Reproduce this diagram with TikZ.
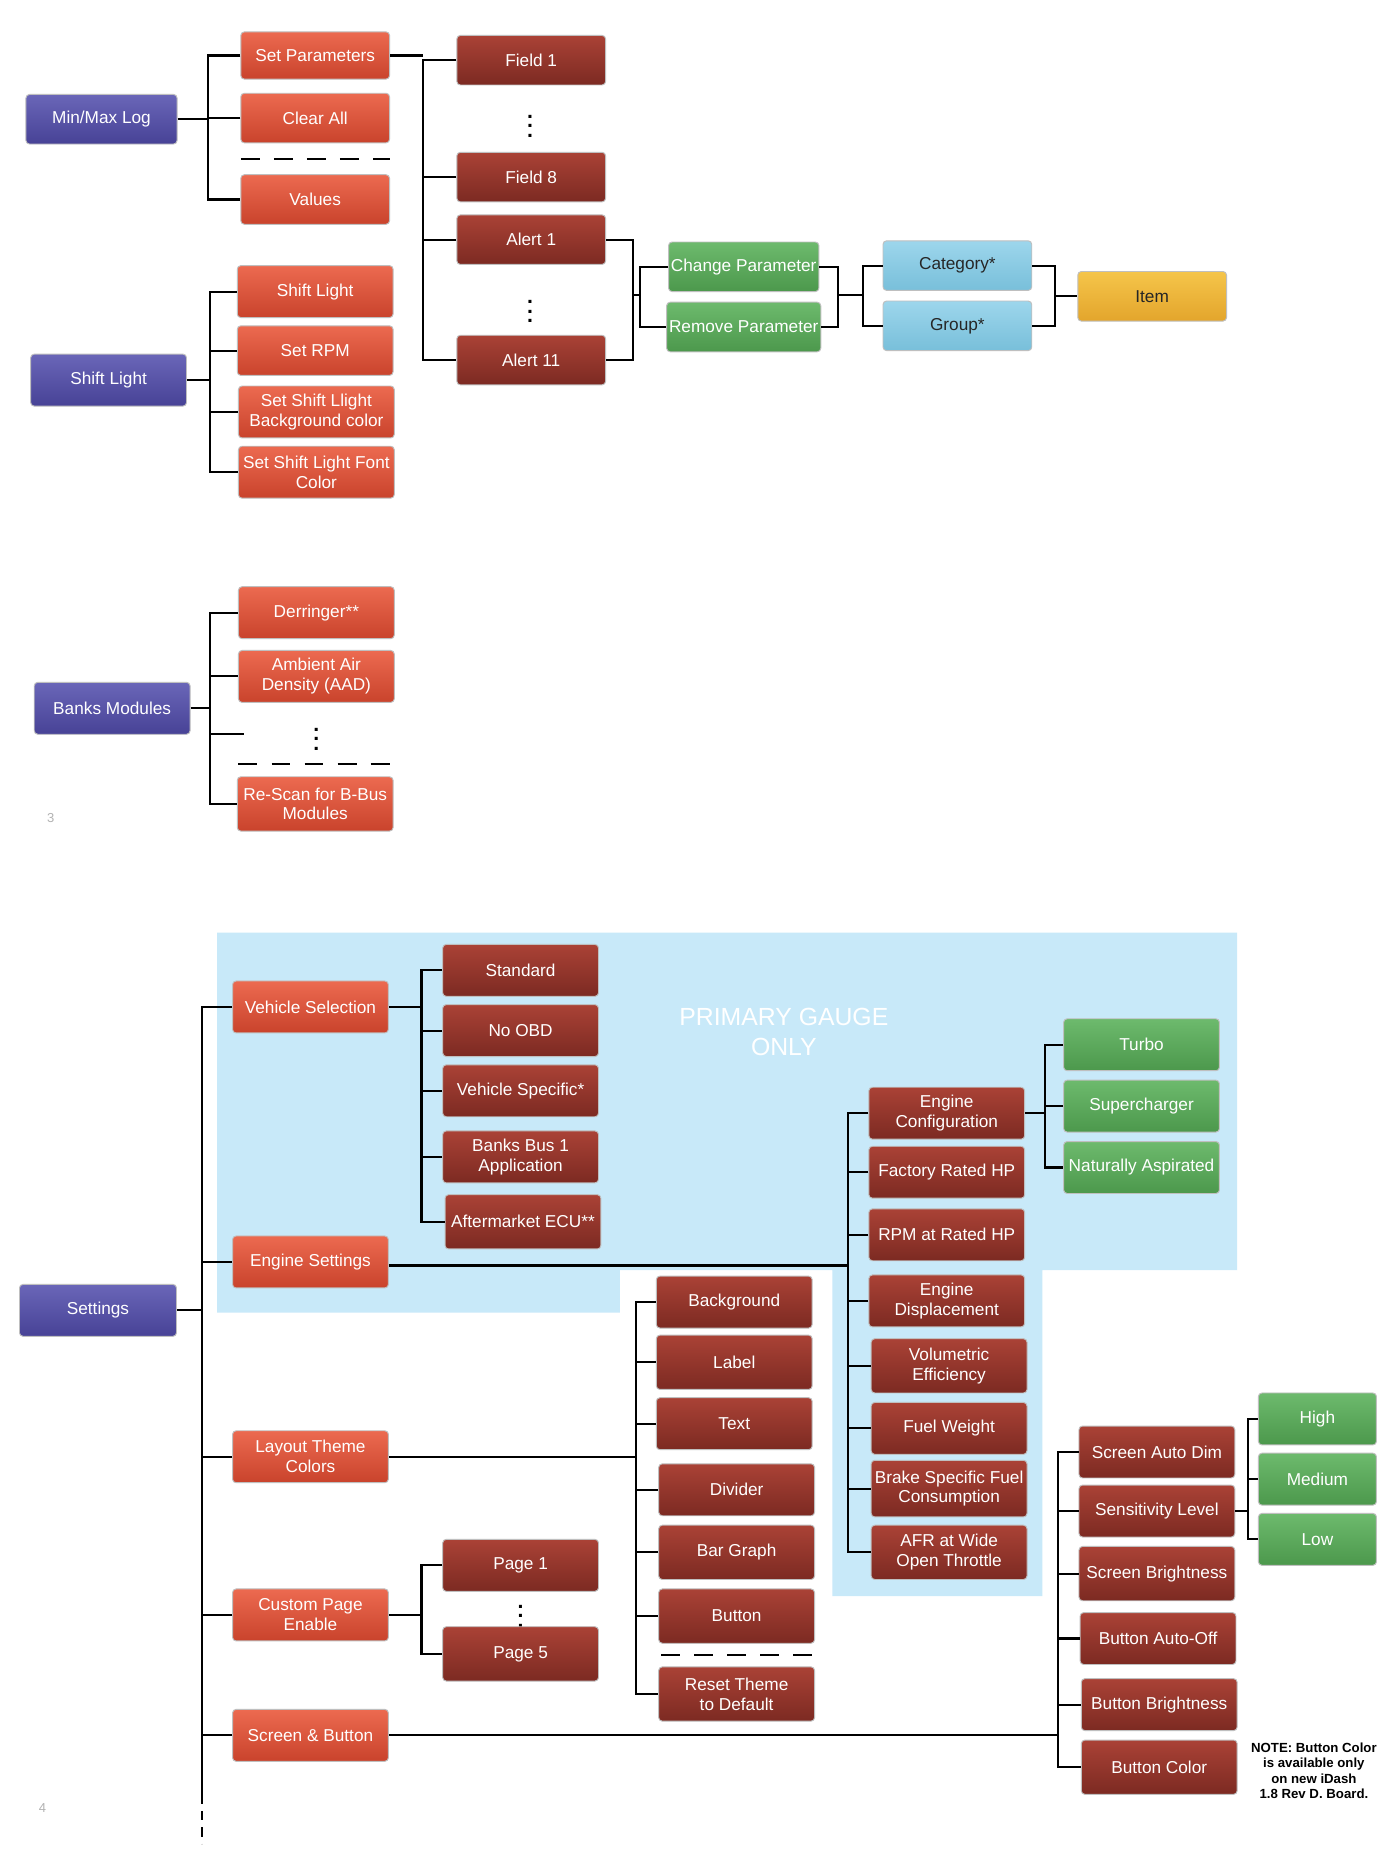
\documentclass[tikz,border=0pt]{standalone}
\usepackage{fontspec}
\setmainfont{Liberation Sans}
\usetikzlibrary{calc}
\definecolor{rtop}{HTML}{EC6A50}\definecolor{rbot}{HTML}{C9432C}
\definecolor{dtop}{HTML}{AA4236}\definecolor{dbot}{HTML}{7C2A22}
\definecolor{ptop}{HTML}{6A66B8}\definecolor{pbot}{HTML}{474296}
\definecolor{gtop}{HTML}{6DBA6D}\definecolor{gbot}{HTML}{4C984C}
\definecolor{ltop}{HTML}{9DD6EC}\definecolor{lbot}{HTML}{78BFDA}
\definecolor{ytop}{HTML}{F5C54A}\definecolor{ybot}{HTML}{E3A52C}
\definecolor{bgblue}{HTML}{C8E9F9}
\begin{document}
\begin{tikzpicture}[x=0.5pt,y=-0.5pt,
 box/.style={rectangle,rounded corners=1.5pt,minimum width=66pt,minimum height=22pt,inner sep=1pt,align=center,text=white,font=\fontsize{7.3}{8.4}\selectfont,draw=black!25,line width=0.4pt},
 rb/.style={box,top color=rtop,bottom color=rbot},
 db/.style={box,top color=dtop,bottom color=dbot},
 pb/.style={box,top color=ptop,bottom color=pbot},
 gb/.style={box,top color=gtop,bottom color=gbot},
 lb/.style={box,top color=ltop,bottom color=lbot,text=black!85},
 yb/.style={box,top color=ytop,bottom color=ybot,text=black!85},
 ln/.style={line width=0.9pt},
 dl/.style={line width=0.9pt,dash pattern=on 8pt off 6pt},
 dots/.style={inner sep=0pt,font=\fontsize{9}{9}\selectfont\bfseries}]
\useasboundingbox (0,0) rectangle (1185,1568);
\fill[white] (0,0) rectangle (1185,1568);
% ---------- Min/Max Log ----------
\node[pb,minimum width=64pt,minimum height=21pt] (mm) at (86,101) {Min/Max Log};
\node[rb,minimum width=63pt,minimum height=20pt] (sp) at (267,47) {Set Parameters};
\node[rb,minimum width=63pt,minimum height=21pt] (ca) at (267,100) {Clear All};
\node[rb,minimum width=63pt,minimum height=21pt] (va) at (267,169) {Values};
\draw[dl] (204,135) -- (330,135);
\coordinate (b1) at (176,101);
\draw[ln] (mm.east) -- (b1);
\draw[ln] (sp.west) -- (sp.west -| b1) -- (va.west -| b1) -- (va.west);
\draw[ln] (ca.west) -- (ca.west -| b1);
\node[db,minimum width=63pt,minimum height=21pt] (f1) at (450,51) {Field 1};
\node[dots] (d1) at (449,101) {$\vdots$};
\node[db,minimum width=63pt,minimum height=21pt] (f8) at (450,150) {Field 8};
\node[db,minimum width=63pt,minimum height=21pt] (a1) at (450,203) {Alert 1};
\node[dots] (d2) at (449,258) {$\vdots$};
\node[db,minimum width=63pt,minimum height=21pt] (a11) at (450,305) {Alert 11};
\coordinate (b2) at (358,47);
\draw[ln] (sp.east) -- (b2);
\draw[ln] (f1.west) -- (f1.west -| b2) -- (a11.west -| b2) -- (a11.west);
\draw[ln] (f8.west) -- (f8.west -| b2);
\draw[ln] (a1.west) -- (a1.west -| b2);
\node[gb,minimum width=63pt,minimum height=21pt] (cp) at (630,226) {Change Parameter};
\node[gb,minimum width=63pt,minimum height=21pt] (rp) at (630,277) {Remove Parameter};
\coordinate (b3) at (536,250);
\draw[ln] (a1.east) -- (a1.east -| b3) -- (a11.east -| b3) -- (a11.east);
\coordinate (b3b) at (542,250);
\draw[ln] (b3) -- (b3b);
\draw[ln] (cp.west) -- (cp.west -| b3b) -- (rp.west -| b3b) -- (rp.west);
\node[lb,minimum width=63pt,minimum height=21pt] (cat) at (811,225) {Category*};
\node[lb,minimum width=63pt,minimum height=21pt] (grp) at (811,276) {Group*};
\coordinate (b4) at (710,250); \coordinate (b4b) at (731,250);
\draw[ln] (cp.east) -- (cp.east -| b4) -- (rp.east -| b4) -- (rp.east);
\draw[ln] (b4) -- (b4b);
\draw[ln] (cat.west) -- (cat.west -| b4b) -- (grp.west -| b4b) -- (grp.west);
\node[yb,minimum width=63pt,minimum height=21pt] (it) at (976,251) {Item};
\coordinate (b5) at (894,251);
\draw[ln] (cat.east) -- (cat.east -| b5) -- (grp.east -| b5) -- (grp.east);
\draw[ln] (b5) -- (it.west);
% ---------- Shift Light ----------
\node[pb,minimum height=22pt] (sl) at (92,322) {Shift Light};
\node[rb] (sl1) at (267,247) {Shift Light};
\node[rb,minimum height=21pt] (sl2) at (267,297) {Set RPM};
\node[rb] (sl3) at (268,349) {Set Shift Llight\\Background color};
\node[rb] (sl4) at (268,400) {Set Shift Light Font\\Color};
\coordinate (b6) at (178,322);
\draw[ln] (sl.east) -- (b6);
\draw[ln] (sl1.west) -- (sl1.west -| b6) -- (sl4.west -| b6) -- (sl4.west);
\draw[ln] (sl2.west) -- (sl2.west -| b6);
\draw[ln] (sl3.west) -- (sl3.west -| b6);
% ---------- Banks ----------
\node[pb] (bm) at (95,600) {Banks Modules};
\node[rb] (bk1) at (268,519) {Derringer**};
\node[rb] (bk2) at (268,573) {Ambient Air\\Density (AAD)};
\node[dots] (d3) at (268,620) {$\vdots$};
\node[rb,minimum height=23pt] (bk3) at (267,681) {Re-Scan for B-Bus\\Modules};
\draw[dl] (202,647) -- (334,647);
\coordinate (b7) at (178,600);
\draw[ln] (bm.east) -- (b7);
\draw[ln] (bk1.west) -- (bk1.west -| b7) -- (bk3.west -| b7) -- (bk3.west);
\draw[ln] (bk2.west) -- (bk2.west -| b7);
\draw[ln] (178,622) -- (207,622);
\node[text=black!30,font=\fontsize{5.5}{6}\selectfont] (p3) at (43,693) {3};
% ---------- Settings ----------
\fill[bgblue] (184,790) -- (1048,790) -- (1048,1076) -- (883,1076) -- (883,1352) -- (705,1352) -- (705,1076) -- (525,1076) -- (525,1112) -- (184,1112) -- cycle;
\node[text=white,align=center,font=\fontsize{10.5}{12.5}\selectfont] (pg) at (664,874) {PRIMARY GAUGE\\ONLY};
\node[pb,minimum width=66.5pt] (st) at (83,1110) {Settings};
\node[rb] (vs) at (263,853) {Vehicle Selection};
\node[rb] (es) at (263,1069) {Engine Settings};
\node[rb] (lt) at (263,1234) {Layout Theme\\Colors};
\node[rb] (cpe) at (263,1368) {Custom Page\\Enable};
\node[rb] (sb) at (263,1470) {Screen \& Button};
\coordinate (tr) at (171,1110);
\coordinate (trend) at (171,1520);
\coordinate (trdash) at (171,1562);
\draw[ln] (st.east) -- (tr);
\draw[ln] (vs.west) -- (vs.west -| tr) -- (trend);
\draw[ln,dash pattern=on 4pt off 3pt] (trend) -- (trdash);
\foreach \n in {es,lt,cpe,sb} \draw[ln] (\n.west) -- (\n.west -| tr);
% vehicle
\node[db] (v1) at (441,822) {Standard};
\node[db] (v2) at (441,873) {No OBD};
\node[db] (v3) at (441,924) {Vehicle Specific*};
\node[db] (v4) at (441,980) {Banks Bus 1\\Application};
\node[db,minimum height=23pt] (v5) at (443,1035) {Aftermarket ECU**};
\coordinate (b8) at (357,853);
\draw[ln] (vs.east) -- (b8);
\draw[ln] (v1.west) -- (v1.west -| b8) -- (v5.west -| b8) -- (v5.west);
\foreach \n in {v2,v3,v4} \draw[ln] (\n.west) -- (\n.west -| b8);
% engine
\node[db] (e1) at (802,943) {Engine\\Configuration};
\node[db] (e2) at (802,993) {Factory Rated HP};
\node[db] (e3) at (802,1046) {RPM at Rated HP};
\node[db] (e4) at (802,1102) {Engine\\Displacement};
\node[db,minimum height=23pt] (e5) at (804,1157) {Volumetric\\Efficiency};
\node[db] (e6) at (804,1210) {Fuel Weight};
\node[db,minimum height=24pt] (e7) at (804,1261) {Brake Specific Fuel\\Consumption};
\node[db,minimum height=23pt] (e8) at (804,1315) {AFR at Wide\\Open Throttle};
\coordinate (b9) at (718,1072);
\draw[ln] (es.east |- b9) -- (b9);
\draw[ln] (e1.west) -- (e1.west -| b9) -- (e8.west -| b9) -- (e8.west);
\foreach \n in {e2,e3,e4,e5,e6,e7} \draw[ln] (\n.west) -- (\n.west -| b9);
\node[gb] (g1) at (967,885) {Turbo};
\node[gb] (g2) at (967,937) {Supercharger};
\node[gb] (g3) at (967,989) {Naturally Aspirated};
\coordinate (b10) at (885,943);
\draw[ln] (e1.east) -- (e1.east -| b10);
\draw[ln] (g1.west) -- (g1.west -| b10) -- (g3.west -| b10) -- (g3.west);
\draw[ln] (g2.west) -- (g2.west -| b10);
% layout
\node[db] (l1) at (622,1103) {Background};
\node[db,minimum height=23pt] (l2) at (622,1154) {Label};
\node[db] (l3) at (622,1206) {Text};
\node[db] (l4) at (624,1262) {Divider};
\node[db,minimum height=23pt] (l5) at (624,1315) {Bar Graph};
\node[db,minimum height=23pt] (l6) at (624,1369) {Button};
\draw[dl] (560,1402) -- (690,1402);
\node[db,minimum height=23pt] (l7) at (624,1435) {Reset Theme\\to Default};
\coordinate (b11) at (539,1234);
\draw[ln] (lt.east) -- (b11);
\draw[ln] (l1.west) -- (l1.west -| b11) -- (l7.west -| b11) -- (l7.west);
\foreach \n in {l2,l3,l4,l5,l6} \draw[ln] (\n.west) -- (\n.west -| b11);
% custom page
\node[db] (p1) at (441,1326) {Page 1};
\node[dots] (d4) at (441,1363) {$\vdots$};
\node[db,minimum height=23pt] (p5) at (441,1401) {Page 5};
\coordinate (b12) at (357,1368);
\draw[ln] (cpe.east) -- (b12);
\draw[ln] (p1.west) -- (p1.west -| b12) -- (p5.west -| b12) -- (p5.west);
% screen & button
\node[db] (s1) at (980,1230) {Screen Auto Dim};
\node[db] (s2) at (980,1280) {Sensitivity Level};
\node[db,minimum height=23pt] (s3) at (980,1333) {Screen Brightness};
\node[db] (s4) at (981,1388) {Button Auto-Off};
\node[db] (s5) at (982,1444) {Button Brightness};
\node[db,minimum height=23pt] (s6) at (982,1497) {Button Color};
\coordinate (b13) at (896,1470);
\draw[ln] (sb.east) -- (b13);
\draw[ln] (s1.west) -- (s1.west -| b13) -- (s6.west -| b13) -- (s6.west);
\foreach \n in {s2,s3,s4,s5} \draw[ln] (\n.west) -- (\n.west -| b13);
\node[gb,minimum width=50pt] (h1) at (1116,1202) {High};
\node[gb,minimum width=50pt] (h2) at (1116,1253) {Medium};
\node[gb,minimum width=50pt] (h3) at (1116,1304) {Low};
\coordinate (b14) at (1057,1280);
\draw[ln] (s2.east) -- (b14);
\draw[ln] (h1.west) -- (h1.west -| b14) -- (h3.west -| b14) -- (h3.west);
\draw[ln] (h2.west) -- (h2.west -| b14);
\node[align=center,font=\fontsize{5.6}{6.6}\selectfont\bfseries,inner sep=0pt] (note) at (1113,1500) {NOTE: Button Color\\is available only\\on new iDash\\1.8 Rev D. Board.};
\node[text=black!30,font=\fontsize{5.5}{6}\selectfont] (p4) at (36,1532) {4};
\end{tikzpicture}
\end{document}
